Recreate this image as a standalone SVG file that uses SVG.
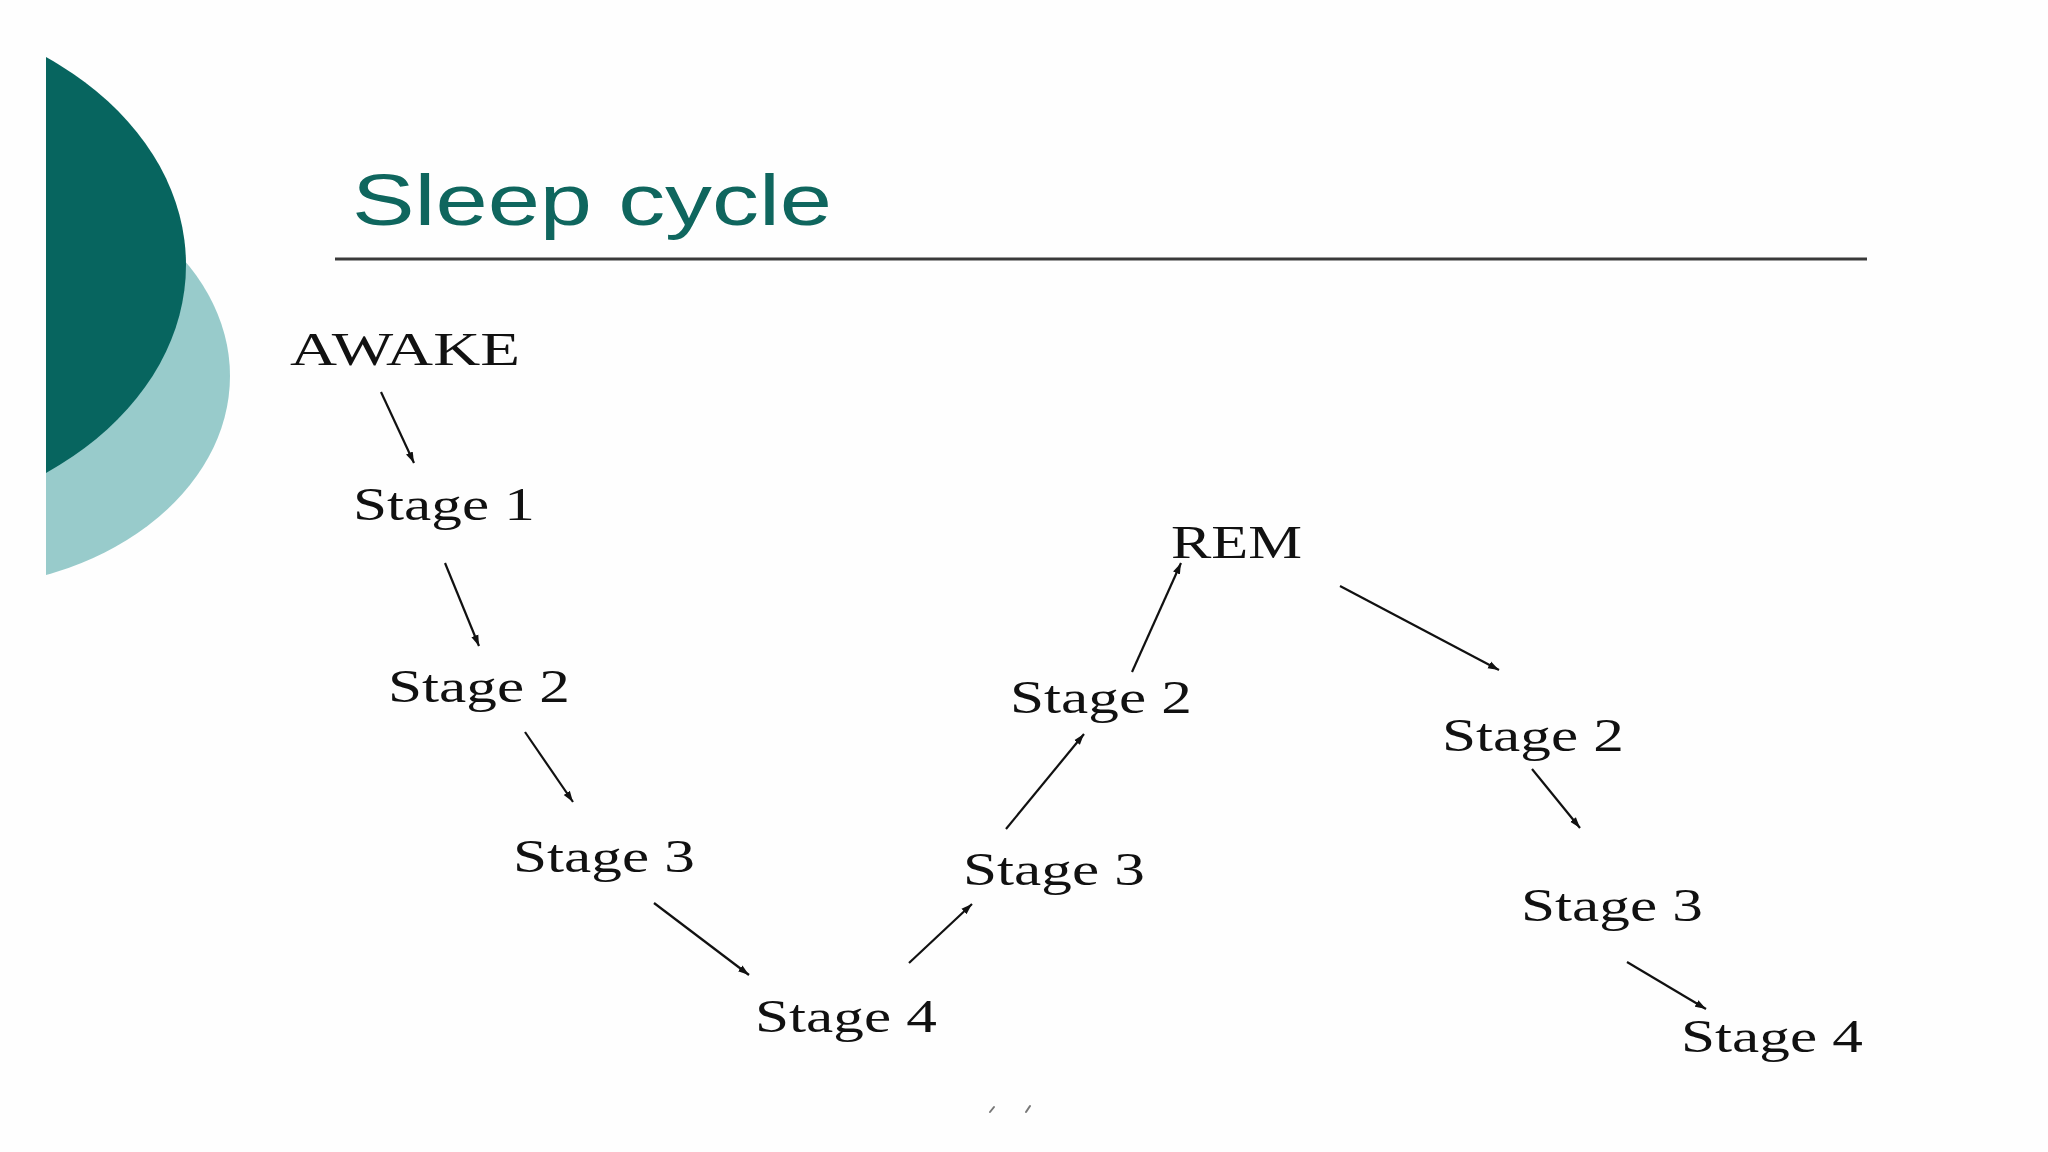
<svg xmlns="http://www.w3.org/2000/svg" width="2048" height="1152" viewBox="0 0 2048 1152">
  <defs>
    <clipPath id="leftClip">
      <rect x="46" y="0" width="400" height="1152"/>
    </clipPath>
    <marker id="arrow" markerUnits="userSpaceOnUse" markerWidth="12" markerHeight="9" refX="11" refY="4.5" orient="auto">
      <path d="M0,0.8 L11,4.5 L0,8.2 z" fill="#111"/>
    </marker>
    <style>
      .node { font-family: "Liberation Serif", "Times New Roman", serif; font-size: 46px; fill: #111; }
      .title { font-family: "Liberation Sans", Arial, sans-serif; font-size: 72px; fill: #0f665e; }
      .conn { stroke: #111; stroke-width: 2.2; fill: none; marker-end: url(#arrow); }
    </style>
  </defs>
  <rect x="0" y="0" width="2048" height="1152" fill="#fefefe"/>

  <g id="decoration" clip-path="url(#leftClip)">
    <ellipse cx="-53" cy="376" rx="283" ry="212.5" fill="#98cbcb"/>
    <ellipse cx="-159" cy="265" rx="345" ry="258.5" fill="#07655f"/>
  </g>

  <g id="title">
    <text class="title" x="352" y="225" textLength="480" lengthAdjust="spacingAndGlyphs">Sleep cycle</text>
    <line x1="335" y1="259" x2="1867" y2="259" stroke="#3a3a3a" stroke-width="3"/>
  </g>

  <g id="connectors">
    <line class="conn" x1="381" y1="392" x2="414" y2="463"/>
    <line class="conn" x1="445" y1="563" x2="479" y2="646"/>
    <line class="conn" x1="525" y1="732" x2="573" y2="802"/>
    <line class="conn" x1="654" y1="903" x2="749" y2="975"/>
    <line class="conn" x1="909" y1="963" x2="972" y2="904"/>
    <line class="conn" x1="1006" y1="829" x2="1084" y2="734"/>
    <line class="conn" x1="1132" y1="672" x2="1181" y2="563"/>
    <line class="conn" x1="1340" y1="586" x2="1499" y2="670"/>
    <line class="conn" x1="1532" y1="769" x2="1580" y2="828"/>
    <line class="conn" x1="1627" y1="962" x2="1706" y2="1009"/>
  </g>

  <g id="node-awake"><text class="node" x="290" y="365" textLength="230" lengthAdjust="spacingAndGlyphs">AWAKE</text></g>
  <g id="node-stage1"><text class="node" x="353" y="520" textLength="182" lengthAdjust="spacingAndGlyphs">Stage 1</text></g>
  <g id="node-stage2a"><text class="node" x="388" y="702" textLength="182" lengthAdjust="spacingAndGlyphs">Stage 2</text></g>
  <g id="node-stage3a"><text class="node" x="513" y="872" textLength="182" lengthAdjust="spacingAndGlyphs">Stage 3</text></g>
  <g id="node-stage4a"><text class="node" x="755" y="1032" textLength="182" lengthAdjust="spacingAndGlyphs">Stage 4</text></g>
  <g id="node-stage3b"><text class="node" x="963" y="885" textLength="182" lengthAdjust="spacingAndGlyphs">Stage 3</text></g>
  <g id="node-stage2b"><text class="node" x="1010" y="713" textLength="182" lengthAdjust="spacingAndGlyphs">Stage 2</text></g>
  <g id="node-rem"><text class="node" x="1171" y="558" textLength="131" lengthAdjust="spacingAndGlyphs">REM</text></g>
  <g id="node-stage2c"><text class="node" x="1442" y="751" textLength="182" lengthAdjust="spacingAndGlyphs">Stage 2</text></g>
  <g id="node-stage3c"><text class="node" x="1521" y="921" textLength="182" lengthAdjust="spacingAndGlyphs">Stage 3</text></g>
  <g id="node-stage4c"><text class="node" x="1681" y="1052" textLength="182" lengthAdjust="spacingAndGlyphs">Stage 4</text></g>

  <g id="footer-marks" stroke="#777" stroke-width="2" stroke-linecap="round">
    <line x1="990" y1="1112" x2="994" y2="1107"/>
    <line x1="1026" y1="1112" x2="1030" y2="1106"/>
  </g>
</svg>
